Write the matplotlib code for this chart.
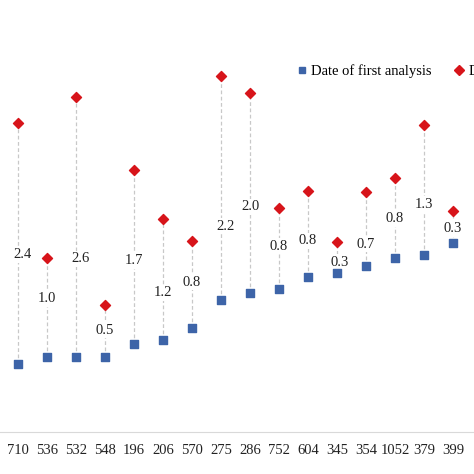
import matplotlib
matplotlib.use("Agg")
import matplotlib.pyplot as plt
from matplotlib.lines import Line2D

cases = ["710","536","532","548","196","206","570","275","286","752","604","345","354","1052","379","399"]
first_analysis = [68, 75, 75, 75, 88, 92, 104, 132, 139, 143, 155, 159, 166, 174, 177, 189]
diagnosis = [309, 174, 335, 127, 262, 213, 191, 356, 339, 224, 241, 190, 240, 254, 307, 221]
diff_labels = ["2.4","1.0","2.6","0.5","1.7","1.2","0.8","2.2","2.0","0.8","0.8","0.3","0.7","0.8","1.3","0.3"]
label_y = [177, 133, 173, 102, 171, 139, 150, 206, 225, 186, 191, 170, 188, 213, 228, 203]
label_dx = [0.15, 0, 0.15, 0, 0, 0, 0, 0.17, 0, 0, 0, 0.1, 0, 0, 0, 0]
extra_tick = "4"

plt.rcParams['font.family'] = ['Liberation Serif', 'DejaVu Serif']
fig = plt.figure(figsize=(4.74, 4.74), dpi=100)
ax = fig.add_axes([0, 42/474, 1, 432/474])
x = list(range(len(cases)))
for i in x:
    ax.plot([i, i], [first_analysis[i], diagnosis[i]], ls=(0, (3, 2)), color="#c8c8c8", lw=0.9, zorder=1)
    ax.text(i + label_dx[i], label_y[i], diff_labels[i], ha="center", va="center", fontsize=10.5,
            color="#222222", zorder=3, bbox=dict(facecolor="white", edgecolor="none", pad=1))
ax.scatter(x, first_analysis, marker="s", s=30, color="#3d64a8", zorder=4)
ax.scatter(x, diagnosis, marker="D", s=26, color="#d7141a", zorder=4)
ax.set_xlim(-18/29, (474-18)/29)
ax.set_ylim(0, 432)
ax.set_xticks(x)
ax.set_xticklabels(cases, fontsize=10.5, color="#222222")
ax.tick_params(length=0, pad=9)
ax.set_yticks([])
for s in ["top", "left", "right"]:
    ax.spines[s].set_visible(False)
ax.spines["bottom"].set_color("#d9d9d9")
ax.text(15.9, -16, extra_tick, ha="center", va="center", fontsize=10.5, color="#222222",
        transform=ax.transData, clip_on=False)
h = [Line2D([], [], marker="s", ls="none", color="#3d64a8", markersize=5),
     Line2D([], [], marker="D", ls="none", color="#d7141a", markersize=5)]
ax.legend(h, ["Date of first analysis", "Diagnosis"], ncol=2, frameon=False, fontsize=10.5,
          loc="center left", bbox_to_anchor=(282/474, (432-71)/432), handletextpad=0.1,
          columnspacing=1.4, handlelength=1)
fig.savefig("out.png", dpi=100)
